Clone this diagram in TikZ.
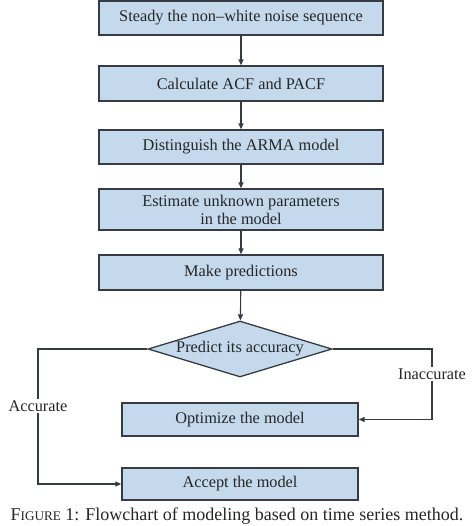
\documentclass[tikz,border=0pt]{standalone}
\usepackage{fontspec}
\setmainfont{Liberation Serif}
\usetikzlibrary{shapes.geometric,arrows.meta}
\definecolor{boxfill}{RGB}{197,217,237}
\definecolor{boxedge}{RGB}{55,60,68}
\begin{document}
\begin{tikzpicture}[x=1pt,y=-1pt,
  txt/.style={font=\fontsize{16.3}{18}\selectfont,text=black!85},
  stepbox/.style={txt,draw=boxedge,fill=boxfill,line width=1.3pt,minimum width=284pt,inner sep=0pt,align=center},
  smallbox/.style={stepbox,minimum width=236pt},
  decide/.style={txt,diamond,draw=boxedge,fill=boxfill,line width=1.3pt,aspect=3.3,minimum width=184pt,minimum height=56pt,inner sep=0pt},
  conn/.style={draw=boxedge,line width=1.1pt,-{Triangle[length=6pt,width=5pt]}},
  lab/.style={txt,fill=white,inner sep=2pt}]
\useasboundingbox (0,0) rectangle (474,526);
\node[stepbox,minimum height=34pt] (s1) at (241,18) {Steady the non--white noise sequence};
\node[stepbox,minimum height=35pt] (s2) at (241,83.5) {Calculate ACF and PACF};
\node[stepbox,minimum height=34pt] (s3) at (241,147) {Distinguish the ARMA model};
\node[stepbox,minimum height=41pt] (s4) at (241,209.5) {Estimate unknown parameters\\in the model};
\node[stepbox,minimum height=35pt] (s5) at (241,272.5) {Make predictions};
\node[decide] (d) at (240,349) {Predict its accuracy};
\node[smallbox,minimum height=33pt] (opt) at (240,419.5) {Optimize the model};
\node[smallbox,minimum height=32pt] (acc) at (240,484) {Accept the model};
\coordinate (lc) at (38,349);
\coordinate (rc) at (432,349);
\draw[conn] (s1) -- (s2);
\draw[conn] (s2) -- (s3);
\draw[conn] (s3) -- (s4);
\draw[conn] (s4) -- (s5);
\draw[conn] (s5) -- (d);
\draw[conn] (d.west) -- (lc) |- (acc.west);
\draw[conn] (d.east) -- (rc) |- (opt.east);
\node[lab] (la) at (38,406) {Accurate};
\node[lab] (li) at (432,374) {Inaccurate};
\node[anchor=base,inner sep=0pt,font=\fontsize{18}{20}\selectfont,text=black!85] (cap) at (237,520.5) {F{\fontsize{13.2}{15}\selectfont IGURE} 1: Flowchart of modeling based on time series method.};
\end{tikzpicture}
\end{document}
